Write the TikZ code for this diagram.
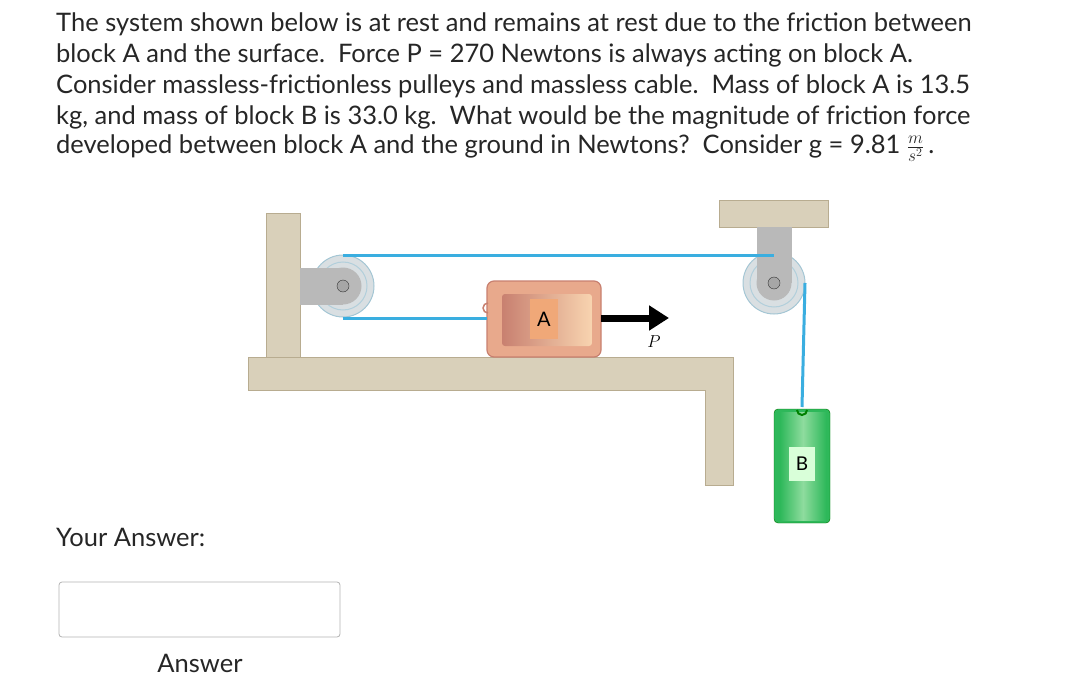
\documentclass[tikz,border=0pt]{standalone}
\usepackage{fontspec}
\setmainfont{Lato}
\usetikzlibrary{arrows.meta}
\definecolor{woodc}{HTML}{D9D0BA}
\definecolor{woodd}{HTML}{B8AC90}
\definecolor{ropec}{HTML}{3AAEE0}
\definecolor{aouter}{HTML}{E8A98C}
\definecolor{adark}{HTML}{C88070}
\definecolor{alight}{HTML}{F8D4B0}
\definecolor{alab}{HTML}{F0A878}
\definecolor{bgreen}{HTML}{2EB85A}
\definecolor{blight}{HTML}{8EDC9E}
\begin{document}
\begin{tikzpicture}[x=1pt,y=-1pt,
  txt/.style={anchor=west,inner sep=0pt,font=\fontsize{25.5}{30}\selectfont,text=black!85},
  wood/.style={fill=woodc,draw=woodd,line width=0.6pt},
  rope/.style={draw=ropec,line width=3pt},
  metal/.style={fill=gray!55,draw=gray!70}]
\useasboundingbox (0,0) rectangle (1086,679);
\node[txt] (l1) at (56,24) {The system shown below is at rest and remains at rest due to the friction between};
\node[txt] (l2) at (56,55) {block A and the surface.\ \ Force P = 270 Newtons is always acting on block A.};
\node[txt] (l3) at (56,86) {Consider massless-frictionless pulleys and massless cable.\ \ Mass of block A is 13.5};
\node[txt] (l4) at (56,117) {kg, and mass of block B is 33.0 kg.\ \ What would be the magnitude of friction force};
\node[txt] (l5) at (56,148) {developed between block A and the ground in Newtons?\ \ Consider g = 9.81 $\frac{m}{s^2}$\,.};
% supports
\draw[wood] (266,213) rectangle (300,357);
\draw[wood] (248,357) -- (733,357) -- (733,485) -- (705,485) -- (705,390) -- (248,390) -- cycle;
\draw[wood] (719,200) rectangle (828,227);
% pulleys
\node[circle,minimum size=62pt,fill=cyan!15!gray!30,draw=cyan!40!gray!60,line width=1pt] (pl) at (343,286) {};
\node[circle,minimum size=48pt,draw=cyan!40!gray!50,line width=1pt] at (343,286) {};
\fill[gray!55] (300,268) rectangle (343,305);
\fill[gray!55] (343,286) circle (18.5);
\node[circle,minimum size=12pt,fill=gray!70,draw=gray!40!black,inner sep=0pt] (al) at (343,286) {};
\node[circle,minimum size=62pt,fill=cyan!15!gray!30,draw=cyan!40!gray!60,line width=1pt] (pr) at (774,283) {};
\node[circle,minimum size=48pt,draw=cyan!40!gray!50,line width=1pt] at (774,283) {};
\fill[gray!55] (757,227) rectangle (792,283);
\fill[gray!55] (774,283) circle (17.5);
\node[circle,minimum size=12pt,fill=gray!70,draw=gray!40!black,inner sep=0pt] (ar) at (774,283) {};
% block A
\node[draw=adark,fill=aouter,rounded corners=7pt,minimum width=114pt,minimum height=76pt,line width=1.2pt] (A) at (544,319) {};
\shade[left color=adark,right color=alight,rounded corners=3pt] (502,294) rectangle (592,346);
\node[fill=alab,minimum width=28pt,minimum height=40pt,font=\fontsize{20}{22}\selectfont] at (544,319) {A};
% block B
\node[draw=green!45!black,fill=bgreen,rounded corners=4pt,minimum width=56pt,minimum height=114pt] (B) at (802,466) {};
\shade[left color=bgreen,right color=bgreen,middle color=blight] (780,412) rectangle (826,520);
\node[fill=green!15,minimum width=26pt,minimum height=34pt,font=\fontsize{19}{20}\selectfont] at (802,464) {B};
% ropes
\coordinate (hA) at (487,318);
\coordinate (hB) at (802,407);
\draw[rope] (343,255) -- (774,255);
\draw[rope] (343,318) -- (hA);
\draw[rope] (805,283) -- (hB);
\draw[draw=adark,line width=1.5pt] (488,313) arc (90:270:5);
\draw[draw=green!50!black,line width=2pt] (797,410) arc (180:0:5);
% force
\coordinate (pt) at (669,318);
\draw[line width=7pt,-{Triangle[length=20pt,width=24pt]}] (601,318) -- (pt);
\node[inner sep=0pt,font=\fontsize{16}{16}\selectfont] (P) at (654,342) {$P$};
% answer
\node[txt] (ya) at (56,537) {Your Answer:};
\draw[gray!60,rounded corners=3pt,line width=0.8pt] (59,582) rectangle (340,637);
\node[txt,anchor=center] (ans) at (200,663) {Answer};
\end{tikzpicture}
\end{document}
